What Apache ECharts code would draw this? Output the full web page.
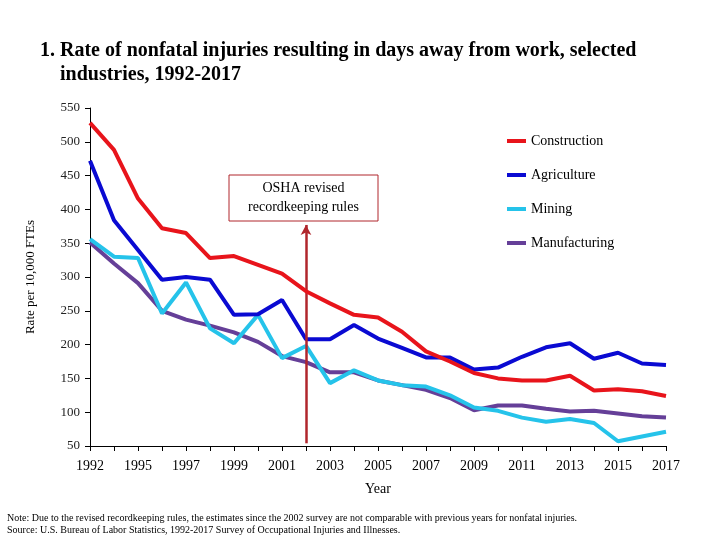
<!DOCTYPE html>
<html><head><meta charset="utf-8">
<script src="https://cdn.jsdelivr.net/npm/echarts@6/dist/echarts.min.js"></script>
<style>html,body{margin:0;padding:0;background:#fff}#c{width:720px;height:540px}</style>
</head><body><div id="c"></div>
<script>
const years = ['1992','1993','1995','1996','1997','1998','1999','2000','2001','2002','2003','2004','2005','2006','2007','2008','2009','2010','2011','2012','2013','2014','2015','2016','2017'];
const construction = [528,488,416,372,365,328,331,318,305,279,261,244,240,219,190,175,158,150,147,147,154,132,134,131,124];
const agriculture = [472,384,340,296,300,296,244,245,266,208,208,229,209,195,181,181,163,166,182,196,202,179,188,172,170];
const mining = [356,330,328,246,292,224,202,244,180,198,143,162,147,140,138,125,107,102,92,86,90,84,57,64,71];
const manufacturing = [351,320,291,250,237,228,218,204,183,174,159,159,147,140,133,121,103,110,110,105,101,102,98,94,92];
const seriesNames = ['Construction','Agriculture','Mining','Manufacturing'];
const seriesColors = ['#e8141b','#0a0ad2','#25c3ea','#653f98'];
const yTicks = {min:50, max:550, interval:50};
const revisionYear = '2002';
const serif = '"Liberation Serif","DejaVu Serif",serif';

const chart = echarts.init(document.getElementById('c'));
const allData = [construction, agriculture, mining, manufacturing];
const series = allData.map((d,i)=>({
  name: seriesNames[i], type:'line', data:d, symbol:'none', smooth:false,
  lineStyle:{width:4, color:seriesColors[i]}, itemStyle:{color:seriesColors[i]},
  z: 5-i, animation:false
}));
series[0].markLine = {
  silent:true, animation:false,
  lineStyle:{color:'#b0262c', width:2.5, type:'solid'},
  label:{show:false},
  symbolSize:[8,10],
  data:[[{coord:[revisionYear,54], symbol:'none'},{coord:[revisionYear,377], symbol:'arrow'}]]
};
chart.setOption({
  animation:false,
  backgroundColor:'#fff',
  title:[
    {text:'1. Rate of nonfatal injuries resulting in days away from work, selected', left:40, top:41, padding:0,
     textStyle:{fontFamily:serif, fontWeight:'bold', fontSize:20, color:'#000'}},
    {text:'industries, 1992-2017', left:60, top:65, padding:0,
     textStyle:{fontFamily:serif, fontWeight:'bold', fontSize:20, color:'#000'}}
  ],
  legend:{
    orient:'vertical', left:502, top:129, itemWidth:19, itemHeight:4, itemGap:20,
    icon:'rect', data:seriesNames,
    textStyle:{fontFamily:serif, fontSize:14, color:'#000'}
  },
  grid:{left:90, right:54, top:108, bottom:94, containLabel:false},
  xAxis:{
    type:'category', data:years, boundaryGap:false,
    name:'Year', nameLocation:'middle', nameGap:36,
    nameTextStyle:{fontFamily:serif, fontSize:14, color:'#000'},
    axisLine:{lineStyle:{color:'#000', width:1}},
    axisTick:{show:true, interval:0, length:5, lineStyle:{color:'#000'}},
    axisLabel:{interval:1, margin:13, fontFamily:serif, fontSize:14, color:'#000'},
    splitLine:{show:false}
  },
  yAxis:{
    type:'value', min:yTicks.min, max:yTicks.max, interval:yTicks.interval,
    name:'Rate per 10,000 FTEs', nameLocation:'middle', nameGap:53, nameRotate:90,
    nameTextStyle:{fontFamily:serif, fontSize:13, color:'#000'},
    axisLine:{show:true, lineStyle:{color:'#000', width:1}},
    axisTick:{show:true, length:5, lineStyle:{color:'#000'}},
    axisLabel:{fontFamily:serif, fontSize:13, color:'#222', margin:10},
    splitLine:{show:false}
  },
  graphic:[
    {type:'rect', shape:{x:229, y:175, width:149, height:46},
     style:{fill:'#fff', stroke:'#b0262c', lineWidth:1}, z:10},
    {type:'text', x:303.5, y:179, z:11,
     style:{text:'OSHA revised\nrecordkeeping rules', textAlign:'center', font:'14px '+serif, fill:'#000', lineHeight:19}},
    {type:'text', left:7, top:513, z:11,
     style:{text:'Note: Due to the revised recordkeeping rules, the estimates since the 2002 survey are not comparable with previous years for nonfatal injuries.', font:'10px '+serif, fill:'#000'}},
    {type:'text', left:7, top:525, z:11,
     style:{text:'Source: U.S. Bureau of Labor Statistics, 1992-2017 Survey of Occupational Injuries and Illnesses.', font:'10px '+serif, fill:'#000'}}
  ],
  series:series
});
</script></body></html>
